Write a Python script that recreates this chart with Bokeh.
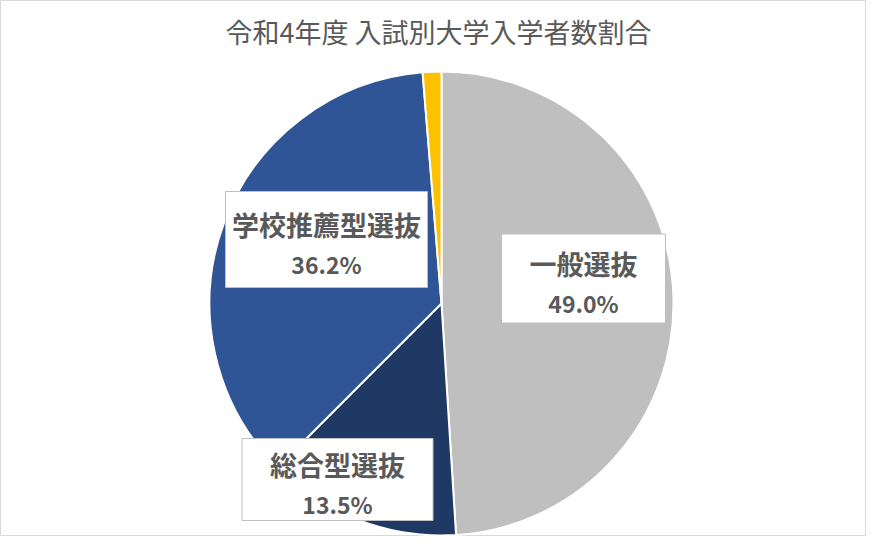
import numpy as np
from bokeh.plotting import figure
from bokeh.models import Range1d, ColumnDataSource
from bokeh.core.properties import value
from bokeh.embed import file_html
from bokeh.resources import INLINE

title_text = "令和4年度 入試別大学入学者数割合"
categories = ["一般選抜", "総合型選抜", "学校推薦型選抜", "その他"]
shares = [49.0, 13.5, 36.2, 1.3]
colors = ["#BFBFBF", "#203864", "#2F5597", "#FFC000"]

# labels shown (category, value) and their layout
label_idx = [0, 1, 2]
label_pos = [(583, 258), (337, 57), (326, 297)]   # box centers (px)
label_box = [(164, 89), (191, 82), (202, 96)]     # box sizes (px)

W, H = 866, 536
CX, CY, R = 441, 233, 232

p = figure(width=W, height=H, output_backend="svg", toolbar_location=None,
           x_range=Range1d(0, W), y_range=Range1d(0, H), min_border=0)
p.axis.visible = False
p.grid.visible = False
p.outline_line_color = "#D9D9D9"
p.outline_line_width = 1
p.background_fill_color = "white"
p.border_fill_color = "white"

frac = np.array(shares) / np.sum(shares)
cum = np.cumsum(frac)
prev = np.concatenate([[0], cum[:-1]])
start = np.pi / 2 - 2 * np.pi * prev
end = np.pi / 2 - 2 * np.pi * cum

src = ColumnDataSource(dict(cat=categories, val=shares, start=start, end=end, color=colors))
p.wedge(x=CX, y=CY, radius=R, start_angle="start", end_angle="end", direction="clock",
        fill_color="color", line_color="white", line_width=2, source=src)

bx = [pp[0] for pp in label_pos]
by = [pp[1] for pp in label_pos]
bw = [b[0] for b in label_box]
bh = [b[1] for b in label_box]
p.rect(x=bx, y=by, width=bw, height=bh, fill_color="white", line_color="#BFBFBF", line_width=1)

names = [categories[i] for i in label_idx]
pcts = [f"{shares[i]:.1f}%" for i in label_idx]
p.text(x=bx, y=[y + 15 for y in by], text=names, text_align="center", text_baseline="middle",
       text_font=value("Noto Sans CJK JP"), text_font_style="bold", text_font_size="27px",
       text_color="#595959")
p.text(x=bx, y=[y - 24 for y in by], text=pcts, text_align="center", text_baseline="middle",
       text_font=value("Noto Sans CJK JP"), text_font_style="bold", text_font_size="23px",
       text_color="#595959")

p.text(x=[438], y=[505], text=[title_text], text_align="center", text_baseline="middle",
       text_font=value("Noto Sans CJK JP"), text_font_size="27px", text_color="#595959")

open("out.html", "w").write(file_html(p, INLINE))
